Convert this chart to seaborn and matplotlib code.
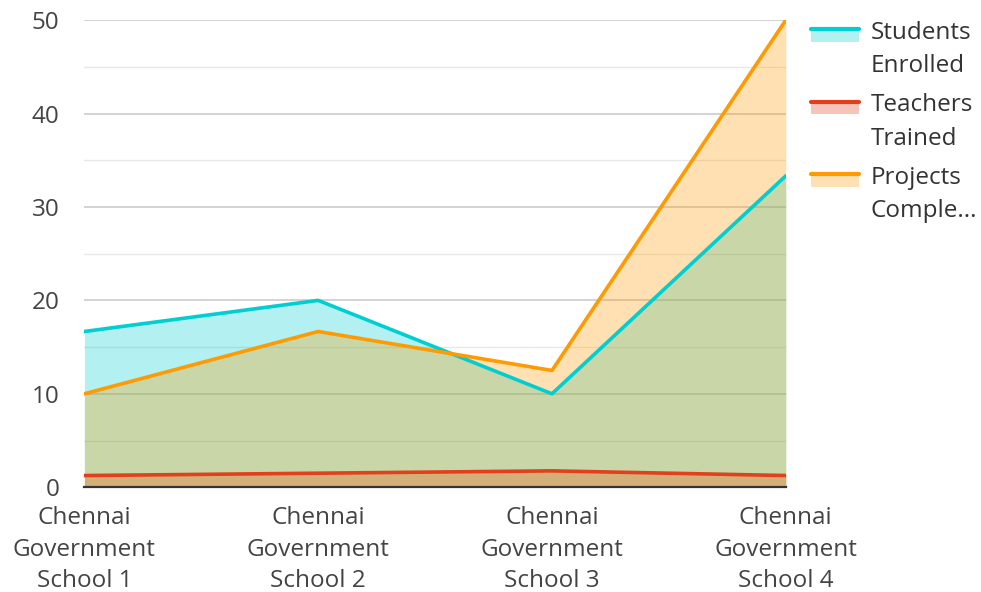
import pandas as pd
import matplotlib.pyplot as plt
import seaborn as sns
from matplotlib.lines import Line2D
from matplotlib.legend_handler import HandlerBase

# --- data ---
schools = ['Chennai\nGovernment\nSchool 1', 'Chennai\nGovernment\nSchool 2',
           'Chennai\nGovernment\nSchool 3', 'Chennai\nGovernment\nSchool 4']
students_enrolled = [16.67, 20, 10, 33.33]
teachers_trained = [1.25, 1.5, 1.75, 1.25]
projects_completed = [10, 16.67, 12.5, 50]

series_names = ['Students Enrolled', 'Teachers Trained', 'Projects Completed']
legend_labels = ['Students\nEnrolled', 'Teachers\nTrained', 'Projects\nComple...']
colors = ['#00CED1', '#E2401A', '#FF9A00']

df = pd.DataFrame({
    'school': list(range(len(schools))) * 3,
    'value': students_enrolled + teachers_trained + projects_completed,
    'series': sum([[s] * len(schools) for s in series_names], []),
})

sns.set_style('white')
plt.rcParams['font.family'] = ['Open Sans', 'DejaVu Sans']
FS = 17.5

fig, ax = plt.subplots(figsize=(9.81, 5.92), dpi=100)
fig.subplots_adjust(left=0.086, right=0.801, top=0.966, bottom=0.177)

# filled areas first
for name, col in zip(series_names, colors):
    sub = df[df['series'] == name]
    ax.fill_between(sub['school'], sub['value'], 0, color=col, alpha=0.3, lw=0, zorder=2)

sns.lineplot(data=df, x='school', y='value', hue='series', palette=colors,
             linewidth=2.6, legend=False, ax=ax, zorder=3)

ax.set_xlim(0, len(schools) - 1)
ax.set_ylim(0, 50)
ax.set_yticks(range(0, 51, 10))
ax.set_yticks(range(5, 50, 10), minor=True)
ax.set_xticks(range(len(schools)))
ax.set_xticklabels(schools, linespacing=1.42)
ax.set_xlabel('')
ax.set_ylabel('')

ax.grid(axis='y', which='major', color='#cccccc', lw=1.2, zorder=0)
ax.grid(axis='y', which='minor', color='#e8e8e8', lw=1.0, zorder=0)
ax.grid(axis='x', visible=False)
for s in ['left', 'right', 'top']:
    ax.spines[s].set_visible(False)
ax.spines['bottom'].set_color('#333333')
ax.spines['bottom'].set_linewidth(1.6)
ax.spines['bottom'].set_zorder(4)

ax.tick_params(axis='both', which='both', length=0, labelsize=FS, labelcolor='#444444')
ax.tick_params(axis='x', pad=13.5)
ax.tick_params(axis='y', pad=18)

LEG_LS = 1.55


class LineAreaHandler(HandlerBase):
    def create_artists(self, legend, orig_handle, xdescent, ydescent, width, height, fontsize, trans):
        col = orig_handle.get_color()
        shift = 0.5 * LEG_LS * fontsize + 1.5
        y_line = height * 0.5 - ydescent + shift
        rect = plt.Rectangle((-xdescent, y_line - 9), width, 9,
                             facecolor=col, alpha=0.3, transform=trans, lw=0)
        line = Line2D([-xdescent, -xdescent + width], [y_line] * 2,
                      color=col, lw=3, transform=trans)
        return [rect, line]


handles = [Line2D([], [], color=c) for c in colors]
leg = ax.legend(handles, legend_labels, handler_map={Line2D: LineAreaHandler()},
                loc='upper left', bbox_to_anchor=(1.0356, 0.999), frameon=False,
                borderaxespad=0, borderpad=0,
                fontsize=FS, handlelength=2.0, handletextpad=0.45, labelspacing=0.6,
                labelcolor='#333333')
for t in leg.get_texts():
    t.set_linespacing(LEG_LS)

plt.savefig('out.png', dpi=100)
